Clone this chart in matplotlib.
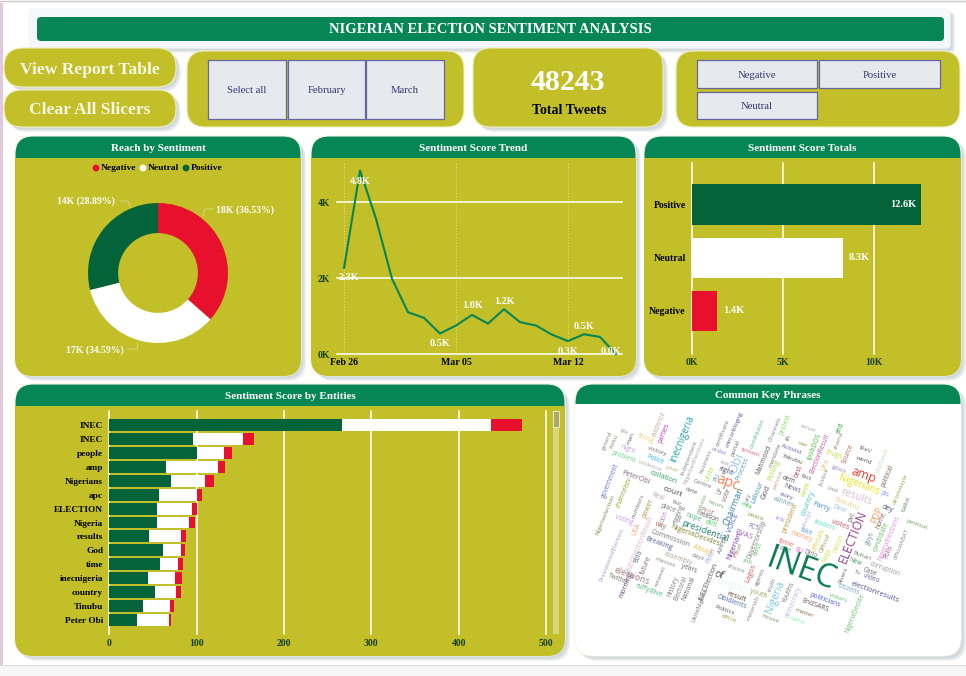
"""Nigerian election sentiment dashboard redrawn with matplotlib."""

import matplotlib
matplotlib.use('Agg')
import matplotlib.pyplot as plt
from matplotlib.patches import FancyBboxPatch, Rectangle, Circle

W, H = 966, 676

OLIVE = '#c2bf28'
HEADER_GREEN = '#068555'
DARK_GREEN = '#056339'
RED = '#e8112d'
WHITE = '#ffffff'
AXIS_GREEN = '#173f25'
SERIF = 'Liberation Serif'
CLOUD_FONT = 'Open Sans'

# donut
reach_labels = ['Negative', 'Neutral', 'Positive']
reach_pct = [36.53, 34.59, 28.89]
reach_colors = [RED, WHITE, DARK_GREEN]

# trend, values in thousands, one per day from Feb 26
trend_values = [2.27, 4.83, 3.56, 1.98, 1.10, 0.95, 0.54, 0.75, 1.03,
                0.80, 1.18, 0.84, 0.75, 0.51, 0.34, 0.52, 0.45, 0.0]
trend_ticks = [0, 7, 14]
trend_tick_labels = ['Feb 26', 'Mar 05', 'Mar 12']

# totals, values in thousands
total_labels = ['Positive', 'Neutral', 'Negative']
total_values = [12.6, 8.3, 1.4]
total_colors = [DARK_GREEN, WHITE, RED]

# entities
entities = ['INEC', 'INEC', 'people', 'amp', 'Nigerians', 'apc', 'ELECTION', 'Nigeria',
            'results', 'God', 'time', 'inecnigeria', 'country', 'Tinubu', 'Peter Obi']
entity_pos = [267, 96, 100, 65, 71, 57, 55, 55, 46, 61, 58, 44, 52, 39, 32]
entity_neu = [170, 57, 31, 59, 38, 43, 40, 36, 36, 21, 21, 31, 24, 31, 36]
entity_neg = [36, 13, 9, 8, 11, 6, 5, 7, 6, 5, 5, 8, 6, 4, 3]

# word cloud: word, x, y (in the two halves of the panel), weight, rotation, colour
UP, DN = 68, -20
cloud_left = [
    ('general', 97, 122, 5, UP, '#8a8a7a'), ('Atiku', 118, 125, 5, UP, '#8a8a5a'),
    ('life', 148, 97, 5, DN, '#999999'), ('man', 168, 115, 5.5, UP, '#666666'),
    ('thing', 214, 115, 7, DN, '#f0d070'), ('evidence', 253, 72, 6, UP, '#c0a890'),
    ('parties', 266, 100, 6, UP, '#c030c0'), ('night', 158, 148, 6, DN, '#c8a0e8'),
    ('problem', 145, 172, 6, DN, '#60e080'), ('victory', 247, 153, 5.5, DN, '#666666'),
    ('Police', 242, 180, 6, DN, '#30b0f0'), ('inecnigeria', 323, 118, 11, UP, '#20a0b0'),
    ('year', 290, 205, 5.5, DN, '#c8b060'), ('violence', 225, 198, 5.5, DN, '#aaaaaa'),
    ('Independent', 343, 172, 5.5, UP, '#888888'), ('NigerianElections', 360, 182, 5.5, UP, '#aaaaaa'),
    ('certificate', 442, 98, 5.5, UP, '#777777'), ('order', 432, 155, 5.5, DN, '#8080d0'),
    ('mirrorblogng', 478, 88, 5.5, UP, '#5050a0'), ('portal', 482, 143, 5.5, UP, '#666666'),
    ('candidates', 547, 100, 5.5, UP, '#50c090'), ('system', 525, 158, 5.5, DN, '#e06090'),
    ('Mahmood', 567, 180, 6, UP, '#555555'), ('business', 393, 185, 5.5, UP, '#888888'),
    ('Centre', 383, 252, 5.5, DN, '#777777'), ('law', 447, 190, 5, DN, '#aaaaaa'),
    ('right', 452, 213, 6.5, DN, '#444444'), ('Unite', 405, 222, 6, UP, '#b0e040'),
    ('PU', 428, 232, 6, UP, '#50a0d0'), ('Obi', 483, 192, 17, UP, '#a0c8f0'),
    ('Process', 503, 208, 6.5, UP, '#60a0b0'), ('apc', 458, 248, 18, DN, '#f08050'),
    ('LP', 437, 272, 6, UP, '#777777'), ('vote', 455, 285, 6, UP, '#806050'),
    ('government', 107, 242, 6, UP, '#6070d0'), ('PeterObi', 183, 233, 7, DN, '#806080'),
    ('collation', 265, 233, 7, DN, '#30a060'), ('channelstv', 148, 276, 6, UP, '#90a020'),
    ('court', 292, 275, 8.5, DN, '#444444'), ('date', 348, 273, 5.5, DN, '#666666'),
    ('Real', 248, 290, 6, DN, '#c0a0a0'), ('Chairman', 475, 320, 10, UP, '#3080a0'),
    ('ury', 520, 293, 5.5, UP, '#777777'), ('Labour', 548, 278, 7, UP, '#4090c0'),
    ('God', 573, 278, 8, UP, '#555555'), ('Nigeriaelection', 90, 345, 5.5, UP, '#888850'),
    ('numbers', 190, 318, 5.5, UP, '#777777'), ('power', 220, 325, 6.5, UP, '#b09040'),
    ('fair', 305, 310, 5.5, DN, '#806080'), ('place', 280, 325, 6, DN, '#777777'),
    ('rigging', 312, 343, 6, UP, '#777777'), ('hours', 423, 313, 5.5, DN, '#70a070'),
    ('website', 383, 312, 5, UP, '#70b070'), ('mfa', 515, 318, 5.5, DN, '#30c040'),
    ('hope', 355, 353, 6.5, DN, '#50b080'), ('Prof', 395, 335, 7, DN, '#b08070'),
    ('reason', 402, 352, 6, DN, '#555555'), ('ekiti', 408, 372, 6, DN, '#50d060'),
    ('VOICE', 475, 368, 7, UP, '#4060c0'), ('peace', 540, 350, 5.5, DN, '#909040'),
    ('voting', 148, 360, 6, DN, '#d090f0'), ('don', 270, 350, 6.5, UP, '#b090c0'),
    ('USA', 185, 388, 7, UP, '#f0a080'), ('INECElectionResult', 195, 430, 6.5, UP, '#e0b0d0'),
    ('way', 258, 378, 6, DN, '#a06050'), ('presidential', 390, 395, 10, DN, '#208070'),
    ('NigeriaDecides', 360, 408, 7.5, DN, '#808030'), ('Commission', 285, 415, 7, DN, '#777777'),
    ('Breaking', 252, 430, 6.5, DN, '#506090'), ('BVAS', 505, 405, 8, DN, '#a060c0'),
    ('FCT', 533, 382, 6, DN, '#7060d0'), ('APPEAL', 445, 430, 5.5, UP, '#666666'),
    ('Nigerian', 480, 438, 7.5, UP, '#7030a0'), ('fraud', 490, 450, 5.5, UP, '#b08050'),
    ('Abuja', 382, 450, 7, DN, '#f0c040'), ('Governorship', 545, 420, 6, UP, '#777777'),
    ('days', 368, 470, 5.5, DN, '#777777'), ('Peter', 410, 465, 7, UP, '#a0b0e0'),
    ('elect', 548, 445, 6, UP, '#60c060'), ('Bola', 190, 470, 6, UP, '#508090'),
    ('future', 215, 495, 6.5, UP, '#806070'), ('assembly', 308, 478, 6.5, DN, '#b0a090'),
    ('masses', 270, 488, 5.5, DN, '#888888'), ('PresidentialElection', 110, 465, 5.5, UP, '#a0a0d0'),
    ('choice', 483, 505, 5.5, DN, '#888888'), ('job', 518, 485, 5.5, DN, '#60c060'),
    ('years', 342, 505, 6, DN, '#666666'), ('Twitter', 130, 538, 6, DN, '#777766'),
    ('elections', 170, 527, 10, DN, '#a08080'), ('retweet', 255, 527, 5.5, UP, '#888888'),
    ('morning', 155, 555, 6.5, UP, '#604080'), ('ruffydlive', 222, 573, 6, DN, '#50b080'),
    ('History', 296, 560, 6, UP, '#777777'), ('Electoral', 318, 565, 6, UP, '#777777'),
    ('National', 340, 565, 6, UP, '#666666'), ('INECElection', 400, 545, 6.5, UP, '#555555'),
    ('of', 432, 525, 12, DN, '#333333'), ('People', 460, 555, 13.5, DN, '#e8f5f5'),
    ('Lagos', 528, 520, 7.5, UP, '#d06050'), ('agents', 555, 532, 5.5, UP, '#777777'),
    ('result', 483, 590, 7.5, DN, '#604030'), ('UkiteNigeria', 375, 615, 5.5, UP, '#777777'),
    ('Obidients', 470, 605, 6.5, DN, '#4070a0'), ('Politics', 450, 630, 5.5, DN, '#555555'),
    ('office', 460, 655, 5.5, DN, '#b0a040'), ('youth', 550, 582, 6, DN, '#90a050'),
    ('materials', 535, 625, 5.5, UP, '#888888'),
]
cloud_right = [
    ('Channels', 30, 88, 5.5, UP, '#888888'), ('protest', 60, 75, 6, UP, '#80e060'),
    ('th', 72, 113, 5.5, UP, '#555555'), ('server', 130, 85, 5, DN, '#aaaaaa'),
    ('war', 115, 132, 5, DN, '#90a050'), ('Activist', 80, 147, 5.5, DN, '#6050a0'),
    ('IpobDOS', 148, 140, 6.5, UP, '#50c040'), ('ElectionResult', 165, 160, 6, UP, '#c050a0'),
    ('end', 225, 85, 6, UP, '#30a040'), ('shame', 222, 122, 5.5, UP, '#a09060'),
    ('thugs', 207, 165, 6, DN, '#c0e040'), ('IReV', 300, 150, 5.5, DN, '#666666'),
    ('Source', 250, 162, 6, UP, '#c06040'), ('Yakubu', 82, 178, 5.5, DN, '#555555'),
    ('mandate', 30, 165, 5.5, UP, '#777777'), ('Polling', 28, 210, 7, UP, '#a0e040'),
    ('world', 297, 182, 5.5, DN, '#555555'), ('UNWatch', 352, 182, 5.5, UP, '#c0e0c0'),
    ('best', 102, 215, 6, UP, '#b04060'), ('fact', 125, 233, 5.5, DN, '#555555'),
    ('Una', 180, 195, 6, UP, '#f0c080'), ('Igbos', 222, 207, 5.5, DN, '#a080c0'),
    ('amp', 295, 225, 15, DN, '#e04030'), ('political', 367, 228, 6, UP, '#806040'),
    ('person', 38, 240, 5.5, UP, '#c0a0a0'), ('dem', 72, 240, 6, DN, '#555555'),
    ('Justice', 178, 232, 5.5, UP, '#888888'), ('Nigerians', 282, 255, 11, DN, '#f0e020'),
    ('diromelayie', 405, 268, 5, UP, '#a0a050'), ('pls', 360, 282, 6, DN, '#80a0f0'),
    ('News', 83, 267, 6.5, DN, '#606080'), ('week', 125, 268, 6, UP, '#c0e040'),
    ('Live', 203, 270, 5.5, DN, '#888888'), ('results', 275, 292, 12, DN, '#e0c0d0'),
    ('story', 65, 287, 5.5, DN, '#7050a0'), ('country', 130, 310, 7.5, UP, '#40c0c0'),
    ('Tinubu', 247, 312, 8.5, DN, '#f0d080'), ('dey', 368, 327, 7, DN, '#405060'),
    ('ballot', 422, 313, 5.5, UP, '#608050'), ('winner', 55, 305, 6, DN, '#70a0b0'),
    ('Party', 168, 322, 7.5, DN, '#4090d0'), ('Dear', 223, 327, 6, DN, '#a0c0d0'),
    ('PDP', 335, 345, 10, UP, '#f0a060'), ('home', 350, 362, 6, UP, '#806050'),
    ('president', 75, 355, 7, UP, '#c09030'), ('things', 130, 355, 5.5, UP, '#c0b0f0'),
    ('link', 45, 357, 5.5, DN, '#b080f0'), ('leaders', 178, 375, 6, DN, '#60e0c0'),
    ('pvc', 262, 350, 6, UP, '#666666'), ('votes', 225, 373, 7.5, DN, '#c05060'),
    ('petition', 455, 372, 5.5, DN, '#70a060'), ('candidate', 350, 410, 6.5, UP, '#60c060'),
    ('NigeriaElections', 372, 415, 6, UP, '#e090e0'), ('Polls', 370, 455, 6, UP, '#a06080'),
    ('guys', 315, 415, 6, UP, '#7090a0'), ('officialABAT', 410, 432, 5, UP, '#888888'),
    ('ELECTION', 265, 410, 15, UP, '#904090'), ('fake', 125, 395, 6, DN, '#6090e0'),
    ('money', 108, 410, 7, DN, '#f0a070'), ('officials', 160, 420, 6.5, UP, '#e0d050'),
    ('Official', 180, 430, 5.5, UP, '#a09050'), ('nation', 220, 430, 6, UP, '#e0e060'),
    ('Naija', 185, 467, 6, UP, '#d0e040'), ('time', 62, 430, 8, DN, '#f07060'),
    ('state', 52, 447, 8, DN, '#888888'), ('EU', 100, 452, 6, DN, '#f060e0'),
    ('Dino', 138, 463, 6, DN, '#777777'), ('Buhari', 290, 467, 5.5, DN, '#777777'),
    ('New', 270, 485, 6, DN, '#50a060'), ('corruption', 360, 507, 6, DN, '#999999'),
    ('Case', 316, 515, 6, DN, '#666666'), ('Tv', 278, 518, 5.5, DN, '#777777'),
    ('video', 318, 535, 6, DN, '#7060a0'), ('Rivers', 235, 525, 5.5, UP, '#666666'),
    ('INEC', 110, 510, 47, DN, '#087a50'), ('citizens', 252, 568, 6, DN, '#70a0d0'),
    ('electionresults', 330, 577, 7.5, DN, '#505090'), ('voters', 220, 593, 5.5, DN, '#60c060'),
    ('Nigeria', 30, 590, 12, UP, '#70c8e8'), ('truth', 22, 555, 5.5, UP, '#777777'),
    ('Youths', 70, 580, 6.5, UP, '#777777'), ('democracy', 85, 607, 6, UP, '#b0b8f0'),
    ('politicians', 180, 600, 6.5, DN, '#5060d0'), ('EndSARS', 152, 617, 6.5, DN, '#705060'),
    ('matter', 118, 638, 5.5, DN, '#907050'), ('naira', 95, 660, 5.5, DN, '#80f0a0'),
    ('house', 15, 655, 5.5, DN, '#70a060'), ('NigeriaDecide', 270, 640, 6, UP, '#70c070'),
]


def px_axes(fig, x0, y0, x1, y1):
    ax = fig.add_axes([x0 / W, 1 - y1 / H, (x1 - x0) / W, (y1 - y0) / H])
    ax.patch.set_alpha(0)
    for spine in ax.spines.values():
        spine.set_visible(False)
    ax.tick_params(length=0)
    return ax


def round_box(ax, x0, y0, x1, y1, r, color, **kwargs):
    box = FancyBboxPatch((x0, y0), x1 - x0, y1 - y0,
                         boxstyle=f'round,pad=0,rounding_size={r}',
                         facecolor=color, edgecolor='none', **kwargs)
    ax.add_patch(box)
    return box


def card(ax, x0, y0, x1, y1, r, color, rim='#eeeebb', shadow=True):
    if shadow:
        for off, alpha in [(5, 0.10), (4, 0.12), (2.5, 0.15)]:
            round_box(ax, x0 + off, y0 + off, x1 + off, y1 + off, r, '#7d8a96', alpha=alpha)
    box = round_box(ax, x0, y0, x1, y1, r, color)
    box.set_edgecolor(rim)
    box.set_linewidth(0.8)
    return box


def panel(ax, x0, y0, x1, y1, header_bottom, title, body=OLIVE):
    box = card(ax, x0, y0, x1, y1, 18, HEADER_GREEN, rim='#f2f2dd')
    rect = Rectangle((x0, header_bottom), x1 - x0, y1 - header_bottom, facecolor=body, edgecolor='none')
    ax.add_patch(rect)
    rect.set_clip_path(box)
    ax.text((x0 + x1) / 2, (y0 + header_bottom) / 2 + 1.5, title, color='white', fontsize=8,
            fontweight='bold', family=SERIF, ha='center', va='center')


def slicer_box(ax, x0, y0, x1, y1, label):
    ax.add_patch(Rectangle((x0, y0), x1 - x0, y1 - y0, facecolor='#e6eaee',
                           edgecolor='#66669c', linewidth=0.9))
    ax.text((x0 + x1) / 2, (y0 + y1) / 2 + 1, label, color='#36366e', fontsize=7.7,
            family=SERIF, ha='center', va='center')


def draw_background(bg):
    bg.add_patch(Rectangle((0, 665), W, 11, facecolor='#f6f6f6', edgecolor='none'))
    bg.plot([0, W], [665, 665], color='#dddddd', lw=0.8)
    bg.plot([0, W], [1, 1], color='#c8c8c8', lw=1)
    bg.add_patch(Rectangle((0, 3), 3, 662, facecolor='#e2c8dc', edgecolor='none'))

    # title strip
    card(bg, 29, 9, 950, 48, 3, '#f5f7fa', rim='#f5f7fa')
    round_box(bg, 37, 17, 944, 41, 4, HEADER_GREEN)
    bg.text(490, 29.5, 'NIGERIAN ELECTION SENTIMENT ANALYSIS', color='white', fontsize=10.5,
            fontweight='bold', family=SERIF, ha='center', va='center')

    # buttons
    card(bg, 4, 48, 176, 87, 19, OLIVE)
    bg.text(90, 70, 'View Report Table', color='#f6f6e6', fontsize=12.6, fontweight='bold',
            family=SERIF, ha='center', va='center')
    card(bg, 4, 90, 176, 127, 18, OLIVE)
    bg.text(90, 110.5, 'Clear All Slicers', color='#f6f6e6', fontsize=12.6, fontweight='bold',
            family=SERIF, ha='center', va='center')

    # date slicer
    card(bg, 187, 51, 464, 127, 18, OLIVE, shadow=False)
    for x0, x1, label in [(208, 286, 'Select all'), (288, 365, 'February'), (366, 444, 'March')]:
        slicer_box(bg, x0, 60, x1, 119, label)

    # total tweets
    card(bg, 473, 48, 663, 127, 18, OLIVE)
    bg.text(568, 83, '48243', color='white', fontsize=21.5, fontweight='bold',
            family=SERIF, ha='center', va='center')
    bg.text(569, 110, 'Total Tweets', color='black', fontsize=10, fontweight='bold',
            family=SERIF, ha='center', va='center')

    # sentiment slicer
    card(bg, 676, 51, 960, 127, 18, OLIVE, shadow=False)
    slicer_box(bg, 697, 60, 817, 88, 'Negative')
    slicer_box(bg, 819, 60, 940, 88, 'Positive')
    slicer_box(bg, 697, 92, 817, 119, 'Neutral')

    panel(bg, 15, 136, 301, 376, 158, 'Reach by Sentiment')
    panel(bg, 311, 136, 636, 376, 158, 'Sentiment Score Trend')
    panel(bg, 644, 136, 961, 376, 158, 'Sentiment Score Totals')
    panel(bg, 15, 384, 565, 656, 406, 'Sentiment Score by Entities')
    panel(bg, 575, 384, 961, 656, 404, 'Common Key Phrases', body='white')


def draw_reach(fig, bg):
    ax = px_axes(fig, 88, 203, 228, 343)
    ax.pie(reach_pct, colors=reach_colors, startangle=90, counterclock=False, radius=1,
           wedgeprops={'width': 0.43})
    ax.set_xlim(-1, 1)
    ax.set_ylim(-1, 1)

    for dot_x, text_x, label, color in zip([96, 143, 186], [101, 148, 191], reach_labels, reach_colors):
        bg.add_patch(Circle((dot_x, 168), 3.4, facecolor=color, edgecolor='none'))
        bg.text(text_x, 168.5, label, color='black', fontsize=6.8, fontweight='bold',
                family=SERIF, ha='left', va='center')

    callouts = [('18K (36.53%)', 216, 210, [203, 205, 213], [216, 209, 209]),
                ('17K (34.59%)', 66, 350, [128, 137, 138], [349, 349, 343]),
                ('14K (28.89%)', 57, 201, [120, 128, 131], [201, 201, 208])]
    for text, x, y, line_x, line_y in callouts:
        bg.text(x, y + 0.5, text, color='white', fontsize=7, fontweight='bold', family=SERIF,
                ha='left', va='center')
        bg.plot(line_x, line_y, color='#dcdc90', lw=0.6)


def draw_trend(fig):
    ax = px_axes(fig, 337, 163, 622, 354)
    days = list(range(len(trend_values)))
    ax.set_xlim(-0.44, 17.38)
    ax.set_ylim(0, 5.03)
    ax.set_yticks([0, 2, 4])
    ax.set_yticklabels(['0K', '2K', '4K'], color=AXIS_GREEN, fontsize=7, fontweight='bold', family=SERIF)
    ax.set_xticks(trend_ticks)
    ax.set_xticklabels(trend_tick_labels, color='black', fontsize=7, fontweight='bold', family=SERIF)
    ax.tick_params(axis='y', pad=5)
    ax.tick_params(axis='x', pad=3)
    ax.grid(axis='y', color='white', lw=1.1, clip_on=False)
    ax.grid(axis='x', color='#e4e49a', lw=0.7, linestyle=(0, (1, 2)))
    ax.set_axisbelow(True)
    ax.plot(days, trend_values, color=HEADER_GREEN, lw=1.5, clip_on=False)

    for idx, dx, dy in [(0, 5, -10), (1, 0, -11), (6, 0, -10), (8, 0, 9), (10, 0, 8),
                        (14, 0, -10), (15, 0, 8), (17, -5, 3)]:
        ax.annotate(f'{trend_values[idx]:.1f}K', (days[idx], trend_values[idx]),
                    xytext=(dx * 0.72, dy * 0.72), textcoords='offset points', color='white',
                    fontsize=7.3, fontweight='bold', family=SERIF, ha='center', va='center')


def draw_totals(fig):
    ax = px_axes(fig, 692, 163, 955, 354)
    ypos = list(range(len(total_values)))
    ax.barh(ypos, total_values, height=0.755, color=total_colors, zorder=2)
    ax.set_xlim(0, 14.45)
    ax.set_ylim(2.81, -0.78)
    ax.set_yticks(ypos)
    ax.set_yticklabels(total_labels, color='black', fontsize=7, fontweight='bold', family=SERIF)
    ax.set_xticks([0, 5, 10])
    ax.set_xticklabels(['0K', '5K', '10K'], color=AXIS_GREEN, fontsize=7, fontweight='bold', family=SERIF)
    ax.tick_params(axis='y', pad=4.5)
    ax.tick_params(axis='x', pad=3)
    ax.grid(axis='x', color='white', lw=1.1, zorder=1, clip_on=False)
    ax.set_axisbelow(True)
    ax.text(total_values[0] - 0.28, 0, f'{total_values[0]}K', color='white', fontsize=7.5,
            fontweight='bold', family=SERIF, ha='right', va='center', zorder=3)
    for i in [1, 2]:
        ax.text(total_values[i] + 0.33, i, f'{total_values[i]}K', color='white', fontsize=7.5,
                fontweight='bold', family=SERIF, ha='left', va='center', zorder=3)


def draw_entities(fig, bg):
    ax = px_axes(fig, 109.3, 411, 546, 634)
    ypos = list(range(len(entities)))
    ax.barh(ypos, entity_pos, height=0.86, color=DARK_GREEN, zorder=2)
    left = list(entity_pos)
    ax.barh(ypos, entity_neu, height=0.86, left=left, color=WHITE, zorder=2)
    left = [a + b for a, b in zip(entity_pos, entity_neu)]
    ax.barh(ypos, entity_neg, height=0.86, left=left, color=RED, zorder=2)
    ax.set_xlim(0, 500)
    ax.set_ylim(len(entities), -1)
    ax.set_yticks(ypos)
    ax.set_yticklabels(entities, color='black', fontsize=6.7, fontweight='bold', family=SERIF)
    ax.set_xticks([0, 100, 200, 300, 400, 500])
    ax.set_xticklabels(['0', '100', '200', '300', '400', '500'], color=AXIS_GREEN, fontsize=7,
                       fontweight='bold', family=SERIF)
    ax.tick_params(axis='y', pad=4.5)
    ax.tick_params(axis='x', pad=3.5)
    ax.grid(axis='x', color='white', lw=1.1, zorder=1, clip_on=False)
    ax.set_axisbelow(True)

    # scrollbar
    bg.add_patch(Rectangle((553.3, 411), 5.7, 223, facecolor='#d8d57e', edgecolor='none'))
    bg.add_patch(Rectangle((553.3, 411), 5.7, 16, facecolor='#a9a96b', edgecolor='#f2f2d8', linewidth=0.6))


def draw_cloud(bg):
    # the weights above are squeezed a bit so the small words stay readable next to the big ones
    for words, left, top in [(cloud_left, 575, 400), (cloud_right, 765, 400)]:
        for word, x, y, weight, rot, color in words:
            bg.text(left + x / 3, top + y / 3, word, color=color, fontsize=2 + 0.45 * weight,
                    rotation=rot, family=CLOUD_FONT, ha='center', va='center',
                    rotation_mode='anchor')


def main():
    fig = plt.figure(figsize=(W / 100, H / 100), dpi=100, facecolor='white')
    bg = fig.add_axes([0, 0, 1, 1])
    bg.set_xlim(0, W)
    bg.set_ylim(H, 0)
    bg.axis('off')

    draw_background(bg)
    draw_reach(fig, bg)
    draw_trend(fig)
    draw_totals(fig)
    draw_entities(fig, bg)
    draw_cloud(bg)

    fig.savefig('out.png', dpi=100)
    plt.close(fig)


if __name__ == '__main__':
    main()
